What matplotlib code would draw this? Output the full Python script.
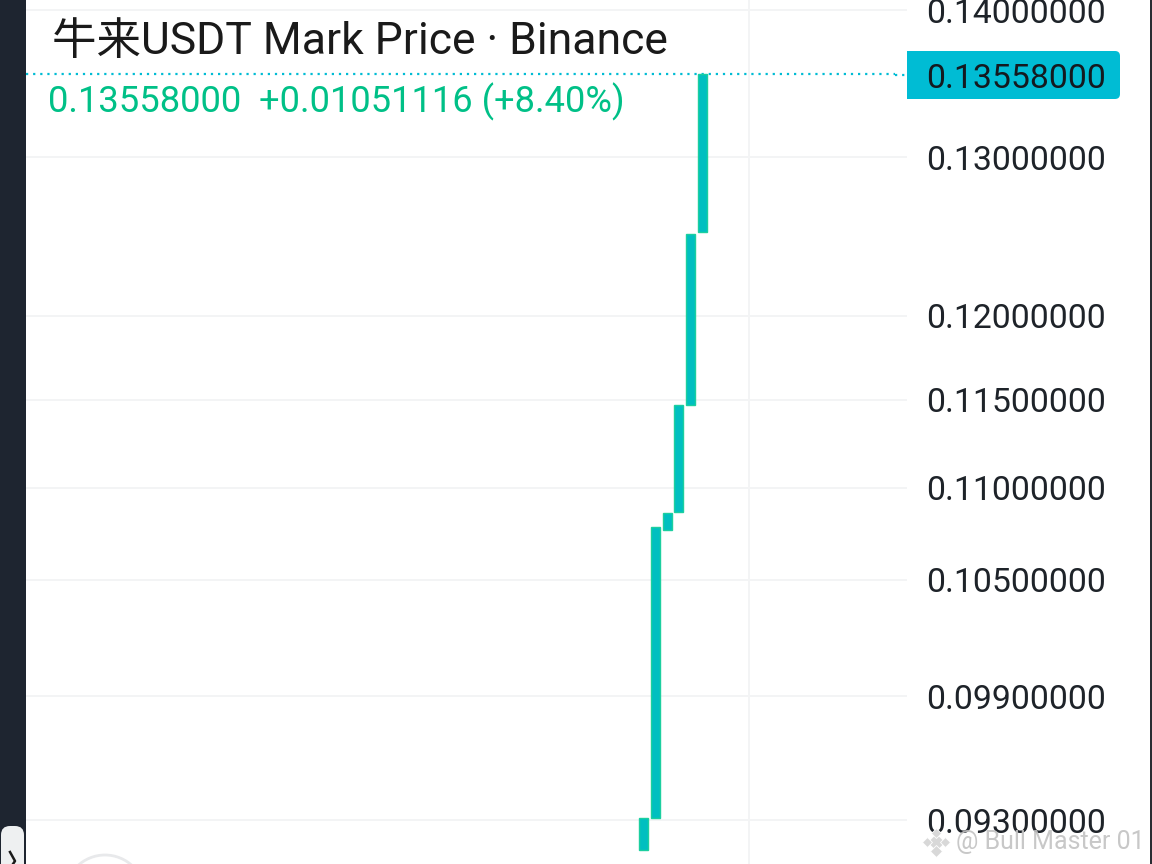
import matplotlib
matplotlib.use('Agg')
import matplotlib.pyplot as plt
from matplotlib.patches import FancyBboxPatch, Rectangle, Circle
from matplotlib.lines import Line2D
from matplotlib.ticker import FixedLocator, FixedFormatter, NullLocator
from matplotlib.transforms import IdentityTransform

plt.rcParams['font.family'] = ['Roboto', 'Noto Sans CJK SC', 'DejaVu Sans']

# candles
candle_x = [0, 1, 2, 3, 4, 5]
opens = [0.09160, 0.09309, 0.10766, 0.10865, 0.11468, 0.12515]
closes = [0.09309, 0.10783, 0.10859, 0.11468, 0.12502, 0.13558]

price_ticks = [0.14, 0.13, 0.12, 0.115, 0.11, 0.105, 0.099, 0.093]
price_labels = ['0.14000000', '0.13000000', '0.12000000', '0.11500000',
                '0.11000000', '0.10500000', '0.09900000', '0.09300000']
last_price = 0.13558
time_grid = [9]

title = '牛来USDT Mark Price · Binance'
legend_price = '0.13558000'
legend_change = '+0.01051116 (+8.40%)'
watermark = '@ Bull Master 01'

W, H = 1152, 864
fig = plt.figure(figsize=(W / 100, H / 100), dpi=100, facecolor='white')
ax = fig.add_axes([26 / W, 0, (907 - 26) / W, 1])
ax.set_facecolor('white')

ax.set_yscale('log')
ax.set_ylim(0.09096, 0.14074)
ax.set_xlim(-52.8, 22.5)

# grid
ax.set_axisbelow(True)
ax.yaxis.set_major_locator(FixedLocator(price_ticks))
ax.yaxis.set_major_formatter(FixedFormatter(price_labels))
ax.yaxis.set_minor_locator(NullLocator())
ax.set_xticks(time_grid)
ax.set_xticklabels([])
ax.grid(True, color='#f3f4f5', lw=1.4)
ax.yaxis.tick_right()
ax.tick_params(axis='y', which='major', length=0, pad=14, labelsize=24.3, labelcolor='#1e2329')
ax.tick_params(axis='x', length=0)
for s in ax.spines.values():
    s.set_visible(False)

# candles
heights = [c - o for o, c in zip(opens, closes)]
ax.bar(candle_x, heights, bottom=opens, width=0.78, color='#00bfc0', edgecolor='#1ccf9f', lw=1.0, zorder=3)

# last price line and tag
ax.axhline(last_price, color='#00bcd4', lw=1.6, ls=(0, (1, 2.2)), zorder=2)
fig.add_artist(FancyBboxPatch((895, H - 99), 225, 48, boxstyle='round,pad=0,rounding_size=5',
                              fc='#00bcd4', ec='none', transform=IdentityTransform()))
fig.add_artist(Rectangle((895, H - 120), 12, 90, fc='white', ec='none', transform=IdentityTransform()))
fig.add_artist(Line2D([895 / W, 906 / W], [1 - 75 / H, 1 - 75 / H], color='#00bcd4', lw=1.6, ls=(0, (1, 2.2))))
fig.text(926.5 / W, 1 - 75 / H, legend_price, fontsize=24.3, color='#14191f', ha='left', va='center_baseline')

# header
fig.text(52 / W, 1 - 38 / H, title, fontsize=32, color='#1a1a1a', ha='left', va='center_baseline')
fig.text(48.5 / W, 1 - 98 / H, legend_price, fontsize=26.2, color='#00c087', ha='left', va='center_baseline')
fig.text(259 / W, 1 - 98 / H, legend_change, fontsize=26.1, color='#00c087', ha='left', va='center_baseline')

# sidebar, button and round control at the bottom
fig.add_artist(Rectangle((0, 0), 26 / W, 1, fc='#1e2530', ec='none', transform=fig.transFigure))
fig.add_artist(FancyBboxPatch((1, -20), 23, 58, boxstyle='round,pad=0,rounding_size=9',
                              fc='#eef0f1', ec='none', transform=IdentityTransform()))
fig.add_artist(Line2D([10 / W, 15 / W, 13 / W], [1 - 852 / H, 1 - 861 / H, 1 - 864 / H], color='#1a1a1a', lw=1.8))
fig.add_artist(Circle((105, H - 895), 40, fc='none', ec='#e8e9eb', lw=2, transform=IdentityTransform()))

# right edge
fig.add_artist(Rectangle((1150 / W, 0), 2 / W, 1, fc='#2a2d33', ec='none', transform=fig.transFigure))

# watermark
for px, py, ms in [(936, 842, 9), (927, 842, 5), (945, 842, 5), (936, 833, 5), (936, 851, 6)]:
    fig.add_artist(Line2D([px / W], [1 - py / H], marker='D', ms=ms, mfc='#d8d8d8', mec='white', mew=0.6, ls='none'))
fig.text(956 / W, 1 - 839 / H, watermark, fontsize=18, color='#c2c2c2', alpha=0.9, ha='left', va='center_baseline')

fig.savefig('out.png', dpi=100)
